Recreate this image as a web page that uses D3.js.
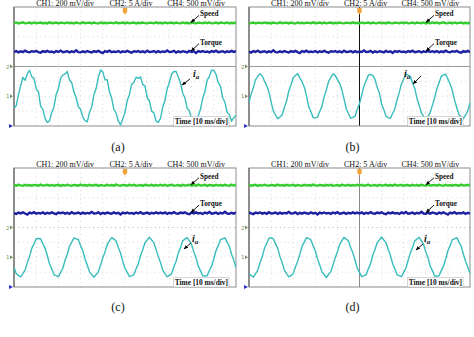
<!DOCTYPE html>
<html><head><meta charset="utf-8">
<script src="https://cdn.jsdelivr.net/npm/d3@7"></script>
<style>body{margin:0;background:#fff}svg{display:block}</style>
</head><body>
<svg id="chart" width="474" height="337"></svg>
<script>
// ---- data ----
const panelIds = ["(a)", "(b)", "(c)", "(d)"];
const channelHeader = ["CH1: 200 mV/div", "CH2: 5 A/div", "CH4: 500 mV/div"];
const timeLabel = "Time [10 ms/div]";
const traceNames = ["Speed", "Torque"];

// trace positions in scope divisions from the top of the screen
const speedLevel = [1.07, 1.07, 1.16, 1.16];
const torqueLevel = [3.0, 3.0, 3.03, 3.03];

// small ripple on the speed and torque traces (divisions)
const speedRipple = [0.02,-0.03,0.04,0.00,-0.04,0.03,0.01,-0.02,0.04,-0.03,0.02,0.00,-0.03,0.03,-0.01,0.03,-0.04,0.02,0.01,-0.03,0.04,-0.02,0.00,0.03,-0.03,0.02,-0.01,0.03,-0.03,0.01,0.03,-0.04,0.02,0.00,-0.02,0.03,-0.03,0.01,0.04,-0.03,0.02,-0.01,0.03,-0.02,0.00,0.03,-0.04,0.02,0.01,-0.03,0.03,-0.02,0.03,0.00,-0.03,0.04,-0.01,0.02,-0.03,0.01,0.03,-0.02,0.00,0.03,-0.04,0.02,-0.01,0.03,-0.03,0.02,0.00,-0.03,0.04,-0.02,0.01,0.03,-0.03,0.02,-0.01,0.03,-0.04,0.01,0.03,-0.02,0.00,0.03,-0.03,0.02,-0.03,0.03,0.01,-0.02,0.04,-0.03,0.00,0.02,-0.03,0.03,-0.01,0.02,-0.03];
const torqueRipple = [0.03,-0.04,0.05,-0.02,0.03,-0.06,0.02,0.04,-0.03,0.01,-0.05,0.04,0.08,-0.03,0.02,-0.05,0.03,-0.01,0.06,-0.04,0.02,-0.07,0.04,0.01,-0.03,0.05,-0.02,0.03,-0.09,0.03,0.05,-0.02,0.04,-0.04,0.01,0.06,-0.03,0.02,-0.05,0.03,0.10,-0.03,0.02,-0.06,0.04,-0.01,0.03,-0.04,0.05,-0.02,0.03,-0.05,0.02,0.07,-0.03,0.01,-0.04,0.04,-0.02,0.05,-0.06,0.03,0.01,-0.04,0.05,-0.03,0.04,-0.01,0.02,-0.08,0.03,0.02,-0.05,0.06,-0.02,0.04,-0.03,0.01,0.05,-0.05,0.03,-0.02,0.09,-0.03,0.02,-0.04,0.03,-0.01,0.05,-0.04,0.02,-0.06,0.04,0.01,-0.03,0.05,-0.02,0.03,-0.05,0.02,-0.03];

// phase current i_a (A), sampled every 1 ms over 100 ms
const currentA = [-4.0,-3.2,0.5,3.6,6.3,5.4,7.6,8.7,6.6,6.0,
  2.4,1.6,-3.4,-4.4,-7.5,-8.8,-8.3,-5.4,-3.6,0.6,
  2.6,6.0,7.1,7.5,8.3,5.4,4.6,1.4,-0.5,-3.6,
  -4.4,-7.0,-8.2,-8.6,-5.5,-3.6,0.5,2.6,6.4,8.8,
  8.2,5.5,5.6,1.5,-0.6,-4.5,-5.6,-8.4,-9.6,-7.6,
  -5.5,-1.5,0.6,4.0,4.6,6.4,6.0,6.5,4.0,3.4,
  -0.5,-1.6,-5.0,-5.6,-8.4,-8.8,-7.4,-3.6,-1.4,2.5,
  4.6,7.4,8.3,8.3,6.5,4.4,1.0,-0.6,-4.0,-5.0,
  -7.5,-7.6,-8.9,-6.6,-4.4,-0.6,1.5,5.4,6.6,8.8,
  8.7,7.4,4.6,3.4,-0.5,-2.0,-5.4,-6.1,-8.4,-7.2,
  -6.4];
const currentB = [-2.1,0.8,3.0,5.6,6.7,7.6,6.8,5.1,3.6,1.4,
  -1.9,-4.9,-6.3,-7.5,-7.0,-6.2,-3.8,-1.6,1.7,3.8,
  6.2,7.0,7.6,6.2,4.9,3.1,0.2,-3.4,-5.2,-7.1,
  -7.3,-7.0,-5.1,-3.4,-0.2,2.1,4.9,6.3,7.5,7.0,
  5.6,4.3,2.2,-0.9,-4.2,-5.8,-7.4,-7.1,-6.7,-4.4,
  -2.5,0.3,3.4,5.2,7.1,7.3,7.0,5.7,3.0,1.1,
  -2.6,-4.5,-6.7,-7.2,-7.4,-5.8,-4.2,-1.2,1.3,4.2,
  5.8,7.4,7.1,6.7,4.4,2.7,-0.7,-3.0,-5.6,-6.8,
  -7.6,-6.7,-5.5,-3.0,-0.6,2.5,4.5,6.7,7.2,7.4,
  5.8,4.1,1.9,-1.3,-3.8,-6.2,-7.0,-7.5,-6.3,-4.9,
  -2.2];
const currentC = [-3.3,-5.5,-6.1,-6.6,-5.5,-4.3,-1.8,0.2,3.0,4.5,
  6.2,6.3,6.2,4.5,3.0,0.6,-2.2,-3.9,-5.9,-6.2,
  -6.5,-5.1,-3.7,-1.0,1.0,3.7,5.1,6.5,6.2,5.9,
  3.9,2.2,-0.6,-2.6,-4.9,-5.8,-6.7,-5.8,-4.9,-2.6,
  -0.2,1.8,4.3,5.5,6.6,6.1,5.5,3.3,1.4,-1.4,
  -3.7,-5.1,-6.5,-6.2,-5.9,-3.9,-2.2,0.6,2.6,4.9,
  5.8,6.7,5.8,4.9,2.6,0.2,-1.8,-4.3,-5.5,-6.6,
  -6.1,-5.5,-3.3,-1.4,1.4,3.3,5.5,6.1,6.6,5.5,
  4.3,1.8,-0.2,-3.0,-4.5,-6.2,-6.3,-6.2,-4.5,-3.0,
  -0.6,2.2,3.9,5.9,6.2,6.5,5.1,3.7,1.0,-1.0,
  -3.5];
const currentD = [-5.5,-6.2,-6.7,-5.5,-4.3,-1.8,0.2,3.0,4.6,6.3,
  6.6,6.2,4.5,3.0,0.2,-1.8,-4.3,-5.5,-6.6,-6.2,
  -5.5,-3.3,-1.4,1.0,3.7,5.1,6.6,6.3,5.9,3.9,
  2.2,-0.6,-2.6,-4.9,-5.8,-6.8,-5.8,-4.9,-2.6,-0.2,
  1.8,4.3,5.5,6.7,6.1,5.5,3.3,1.4,-1.0,-3.7,
  -5.1,-6.5,-6.2,-5.9,-3.9,-2.2,0.6,2.6,4.9,5.8,
  6.8,5.8,4.9,2.6,0.6,-2.2,-3.9,-5.9,-6.2,-6.5,
  -5.1,-3.7,-1.0,1.4,3.3,5.5,6.1,6.7,5.5,4.3,
  1.8,-0.2,-3.0,-4.5,-6.3,-6.4,-6.2,-4.5,-3.0,-0.6,
  2.2,3.9,5.9,6.2,6.6,5.1,3.7,1.0,-1.4,-3.3,
  -5.5];
const currents = [currentA, currentB, currentC, currentD];

// ---- layout ----
const frames = [
  {x0: 14,  x1: 236, y0: 7,   y1: 126, mid: "dotted", split: "solid", ia: [193, 77, 190, 79, 182, 85]},
  {x0: 249, x1: 470, y0: 7,   y1: 126, mid: "black",  split: "solid", ia: [404, 77, 421, 76, 413, 84]},
  {x0: 14,  x1: 236, y0: 168, y1: 287, mid: "dotted", split: "dotted", ia: [192, 242, 191, 243, 184, 249]},
  {x0: 249, x1: 470, y0: 168, y1: 287, mid: "grey",   split: "dotted", ia: [424, 242, 423, 244, 416, 250]}
];
const captionY = [151, 151, 311, 311];

const svg = d3.select("#chart");
const defs = svg.append("defs");
defs.append("marker").attr("id", "arr").attr("viewBox", "0 0 10 10")
  .attr("refX", 9).attr("refY", 5).attr("markerWidth", 5).attr("markerHeight", 5)
  .attr("orient", "auto")
  .append("path").attr("d", "M0,1L10,5L0,9Z").attr("fill", "#000");

const serif = "'Liberation Serif','Times New Roman',serif";

frames.forEach((f, p) => {
  const g = svg.append("g");
  const x = d3.scaleLinear().domain([0, 100]).range([f.x0, f.x1]);   // ms
  const yDiv = d3.scaleLinear().domain([0, 8]).range([f.y0, f.y1]);   // divisions from top
  const yAmp = d3.scaleLinear().domain([30, -10]).range([f.y0, f.y1]); // 5 A/div, ground at div 6

  const cid = "clip" + p;
  defs.append("clipPath").attr("id", cid).append("rect")
    .attr("x", f.x0).attr("y", f.y0).attr("width", f.x1 - f.x0).attr("height", f.y1 - f.y0);

  // dotted graticule
  const grid = g.append("g").attr("stroke", "#c4c4c4").attr("stroke-width", 0.8)
    .attr("stroke-dasharray", "0.8,3.6");
  d3.range(1, 10).forEach(d => {
    if (d === 5) return;
    grid.append("line").attr("x1", x(d * 10)).attr("x2", x(d * 10))
      .attr("y1", f.y0).attr("y2", f.y1);
  });
  d3.range(1, 8).forEach(d => {
    if (d === 4 && f.split === "solid") return;
    grid.append("line").attr("x1", f.x0).attr("x2", f.x1)
      .attr("y1", yDiv(d)).attr("y2", yDiv(d))
      .attr("stroke", d === 4 ? "#999" : null)
      .attr("stroke-dasharray", d === 4 ? "1,3.4" : null);
  });
  if (f.split === "solid") {
    g.append("line").attr("x1", f.x0).attr("x2", f.x1)
      .attr("y1", yDiv(4)).attr("y2", yDiv(4))
      .attr("stroke", "#9a9a9a").attr("stroke-width", 1);
  }
  // centre vertical
  const cl = g.append("line").attr("x1", x(50)).attr("x2", x(50))
    .attr("y1", f.y0).attr("y2", f.y1);
  if (f.mid === "black") cl.attr("stroke", "#111").attr("stroke-width", 1);
  else if (f.mid === "grey") cl.attr("stroke", "#8a8a8a").attr("stroke-width", 1);
  else cl.attr("stroke", "#bbb").attr("stroke-width", 0.8).attr("stroke-dasharray", "0.8,3.6");

  // frame
  g.append("rect").attr("x", f.x0).attr("y", f.y0)
    .attr("width", f.x1 - f.x0).attr("height", f.y1 - f.y0)
    .attr("fill", "none").attr("stroke", "#8c8c8c").attr("stroke-width", 1);
  g.append("line").attr("x1", f.x0).attr("x2", f.x0).attr("y1", f.y0).attr("y2", f.y1)
    .attr("stroke", "#555").attr("stroke-width", 1);

  const traces = g.append("g").attr("clip-path", `url(#${cid})`);
  const off = p * 17;

  // speed
  const ns = speedRipple.length;
  traces.append("path")
    .attr("d", d3.line()
      .x((d, i) => x(i * 100 / (ns - 1)))
      .y((d, i) => yDiv(speedLevel[p] + speedRipple[(i + off) % ns]))(speedRipple))
    .attr("fill", "none").attr("stroke", "#34cc2e").attr("stroke-width", 2.4);

  // torque
  const nt = torqueRipple.length;
  traces.append("path")
    .attr("d", d3.line()
      .x((d, i) => x(i * 100 / (nt - 1)))
      .y((d, i) => yDiv(torqueLevel[p] + torqueRipple[(i + off) % nt]))(torqueRipple))
    .attr("fill", "none").attr("stroke", "#1d20a0").attr("stroke-width", 2.4);

  // phase current
  const cur = currents[p];
  traces.append("path")
    .attr("d", d3.line()
      .x((d, i) => x(i * 100 / (cur.length - 1)))
      .y(d => yAmp(d))(cur))
    .attr("fill", "none").attr("stroke", "#38bcbc").attr("stroke-width", 1.4)
    .attr("stroke-linejoin", "round");

  // trigger marker
  const tx = x(50), ty = f.y0 + 1;
  g.append("path")
    .attr("d", `M${tx - 2.2},${ty}L${tx + 2.2},${ty}L${tx + 2.2},${ty + 4}L${tx},${ty + 6.5}L${tx - 2.2},${ty + 4}Z`)
    .attr("fill", "#f2a23a");

  // channel ground markers on the left edge
  [[4, "2"], [6, "1"]].forEach(([d, lab]) => {
    g.append("text").attr("x", f.x0 - 8).attr("y", yDiv(d) + 2)
      .attr("font-family", "'DejaVu Sans',sans-serif").attr("font-size", 5.5)
      .attr("fill", "#7d8f63").text(lab);
    g.append("path")
      .attr("d", `M${f.x0 - 4},${yDiv(d) - 2}L${f.x0 - 1},${yDiv(d)}L${f.x0 - 4},${yDiv(d) + 2}Z`)
      .attr("fill", "#7d8f63");
  });
  g.append("path")
    .attr("d", `M${f.x0 - 5},${f.y1 - 2}L${f.x0 - 1},${f.y1}L${f.x0 - 5},${f.y1 + 2}Z`)
    .attr("fill", "#2b2fd0");

  // header
  const hy = f.y0 - 1.5;
  [[0.10, 0], [0.43, 1], [0.69, 2]].forEach(([fr, k]) => {
    g.append("text").attr("x", f.x0 + fr * (f.x1 - f.x0)).attr("y", hy)
      .attr("font-family", serif).attr("font-size", 8).attr("fill", "#111")
      .text(channelHeader[k]);
  });

  // trace labels with arrows
  const lx = f.x0 + 186;
  const labelRows = [[speedLevel[p], -6.5], [torqueLevel[p], -7]];
  labelRows.forEach(([lvl, dy], k) => {
    const yl = yDiv(lvl);
    g.append("text").attr("x", lx).attr("y", yl + dy)
      .attr("font-family", serif).attr("font-size", 7.2).attr("font-weight", "bold")
      .attr("fill", "#111").text(traceNames[k]);
    g.append("line").attr("x1", lx - 1).attr("y1", yl + dy - 1)
      .attr("x2", lx - 9).attr("y2", yl - 0.5)
      .attr("stroke", "#000").attr("stroke-width", 0.9).attr("marker-end", "url(#arr)");
  });

  // i_a label
  const ia = f.ia;
  const t = g.append("text").attr("x", ia[0]).attr("y", ia[1])
    .attr("font-family", serif).attr("font-size", 10).attr("font-style", "italic")
    .attr("font-weight", "bold").attr("fill", "#111");
  t.append("tspan").text("i");
  t.append("tspan").attr("font-size", 7).attr("dy", 2).text("a");
  g.append("line").attr("x1", ia[2]).attr("y1", ia[3]).attr("x2", ia[4]).attr("y2", ia[5])
    .attr("stroke", "#000").attr("stroke-width", 0.9).attr("marker-end", "url(#arr)");

  // time base label
  const tl = g.append("text").attr("x", f.x1 - 8).attr("y", f.y1 - 2.5)
    .attr("text-anchor", "end").attr("font-family", serif).attr("font-size", 7.4)
    .attr("font-weight", "bold").attr("fill", "#111").text(timeLabel);
  const bb = tl.node().getBBox();
  g.insert("rect", () => tl.node()).attr("x", bb.x - 1).attr("y", bb.y)
    .attr("width", bb.width + 2).attr("height", f.y1 - bb.y)
    .attr("fill", "#fff").attr("stroke", "#aaa").attr("stroke-width", 0.5);

  // caption
  svg.append("text").attr("x", (f.x0 + f.x1) / 2 - 7).attr("y", captionY[p])
    .attr("text-anchor", "middle").attr("font-family", serif).attr("font-size", 12)
    .attr("fill", "#111").text(panelIds[p]);
});
</script>
</body></html>
